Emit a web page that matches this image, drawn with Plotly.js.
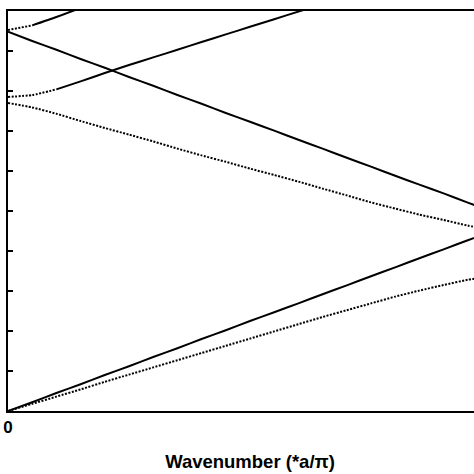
<!DOCTYPE html>
<html>
<head>
<meta charset="utf-8">
<script src="https://cdn.plot.ly/plotly-3.0.1.min.js"></script>
<style>
html, body { margin:0; padding:0; overflow:hidden; background:#fff; }
#chart { width:500px; height:480px; }
</style>
</head>
<body>
<div id="chart"></div>
<script>
// Wavenumber grid (in units of a/pi)
var k = [0, 0.05, 0.1, 0.15, 0.2, 0.25, 0.3, 0.35, 0.4, 0.45, 0.5, 0.55, 0.6, 0.65, 0.7, 0.75, 0.8, 0.85, 0.9, 0.95, 1.0];
// Band values
var bandSolidLow  = [0, 0.22, 0.45, 0.67, 0.90, 1.12, 1.35, 1.57, 1.80, 2.02, 2.25, 2.47, 2.69, 2.92, 3.14, 3.37, 3.59, 3.82, 4.04, 4.27, 4.49];
var bandDotLow    = [0, 0.18, 0.36, 0.54, 0.73, 0.91, 1.09, 1.27, 1.45, 1.63, 1.81, 1.99, 2.17, 2.35, 2.52, 2.69, 2.86, 3.01, 3.15, 3.28, 3.36];
var bandSolidHigh = [9.48, 9.25, 9.03, 8.80, 8.58, 8.35, 8.13, 7.90, 7.68, 7.45, 7.23, 7.01, 6.78, 6.56, 6.33, 6.11, 5.88, 5.66, 5.44, 5.21, 4.99];
var bandDotHigh   = [7.70, 7.59, 7.43, 7.25, 7.075, 6.91, 6.74, 6.56, 6.39, 6.23, 6.06, 5.90, 5.735, 5.56, 5.39, 5.215, 5.06, 4.91, 4.775, 4.635, 4.52];
var bandRise1     = [7.85, 7.90, 8.04, 8.24, 8.45, 8.65, 8.84, 9.03, 9.225, 9.415, 9.605, 9.795, 9.985, 10.175];
var bandRise2     = [9.525, 9.64, 9.85, 10.075];
var xTickVals = [0];
var xTickText = ['0'];

var black = '#000';
var DOT = '2px,1.5px';
function tr(x, y, dash) {
  return {x:x, y:y, type:'scatter', mode:'lines',
    line:{color:black, width:2, dash:dash, shape:'spline', smoothing:0.6},
    hoverinfo:'skip', showlegend:false};
}
var data = [
  tr(k, bandSolidLow, 'solid'),
  tr(k, bandDotLow, DOT),
  tr(k, bandSolidHigh, 'solid'),
  tr(k, bandDotHigh, DOT),
  tr(k.slice(0, 3), bandRise1.slice(0, 3), DOT),
  tr(k.slice(2, bandRise1.length), bandRise1.slice(2), 'solid'),
  tr(k.slice(0, 2), bandRise2.slice(0, 2), DOT),
  tr(k.slice(1, bandRise2.length), bandRise2.slice(1), 'solid')
];

var layout = {
  width:500, height:480,
  margin:{l:8, r:8, t:11, b:69},
  paper_bgcolor:'#fff', plot_bgcolor:'#fff',
  font:{family:'Liberation Sans, Arial, sans-serif', color:black},
  xaxis:{
    range:[0,1], showgrid:false, zeroline:false,
    showline:true, linecolor:black, linewidth:2, mirror:true,
    ticks:'', tickvals:xTickVals, ticktext:xTickText,
    tickfont:{size:17, weight:'bold', color:black},
    title:{text:'Wavenumber (*a/π)', font:{size:18.5, weight:'bold', color:black}, standoff:19}
  },
  yaxis:{
    range:[0,10], showgrid:false, zeroline:false,
    showline:true, linecolor:black, linewidth:2, mirror:true,
    ticks:'inside', ticklen:5, tickwidth:1.5, tickcolor:black, dtick:1,
    showticklabels:false
  }
};
Plotly.newPlot('chart', data, layout, {staticPlot:true, displayModeBar:false});
</script>
</body>
</html>
